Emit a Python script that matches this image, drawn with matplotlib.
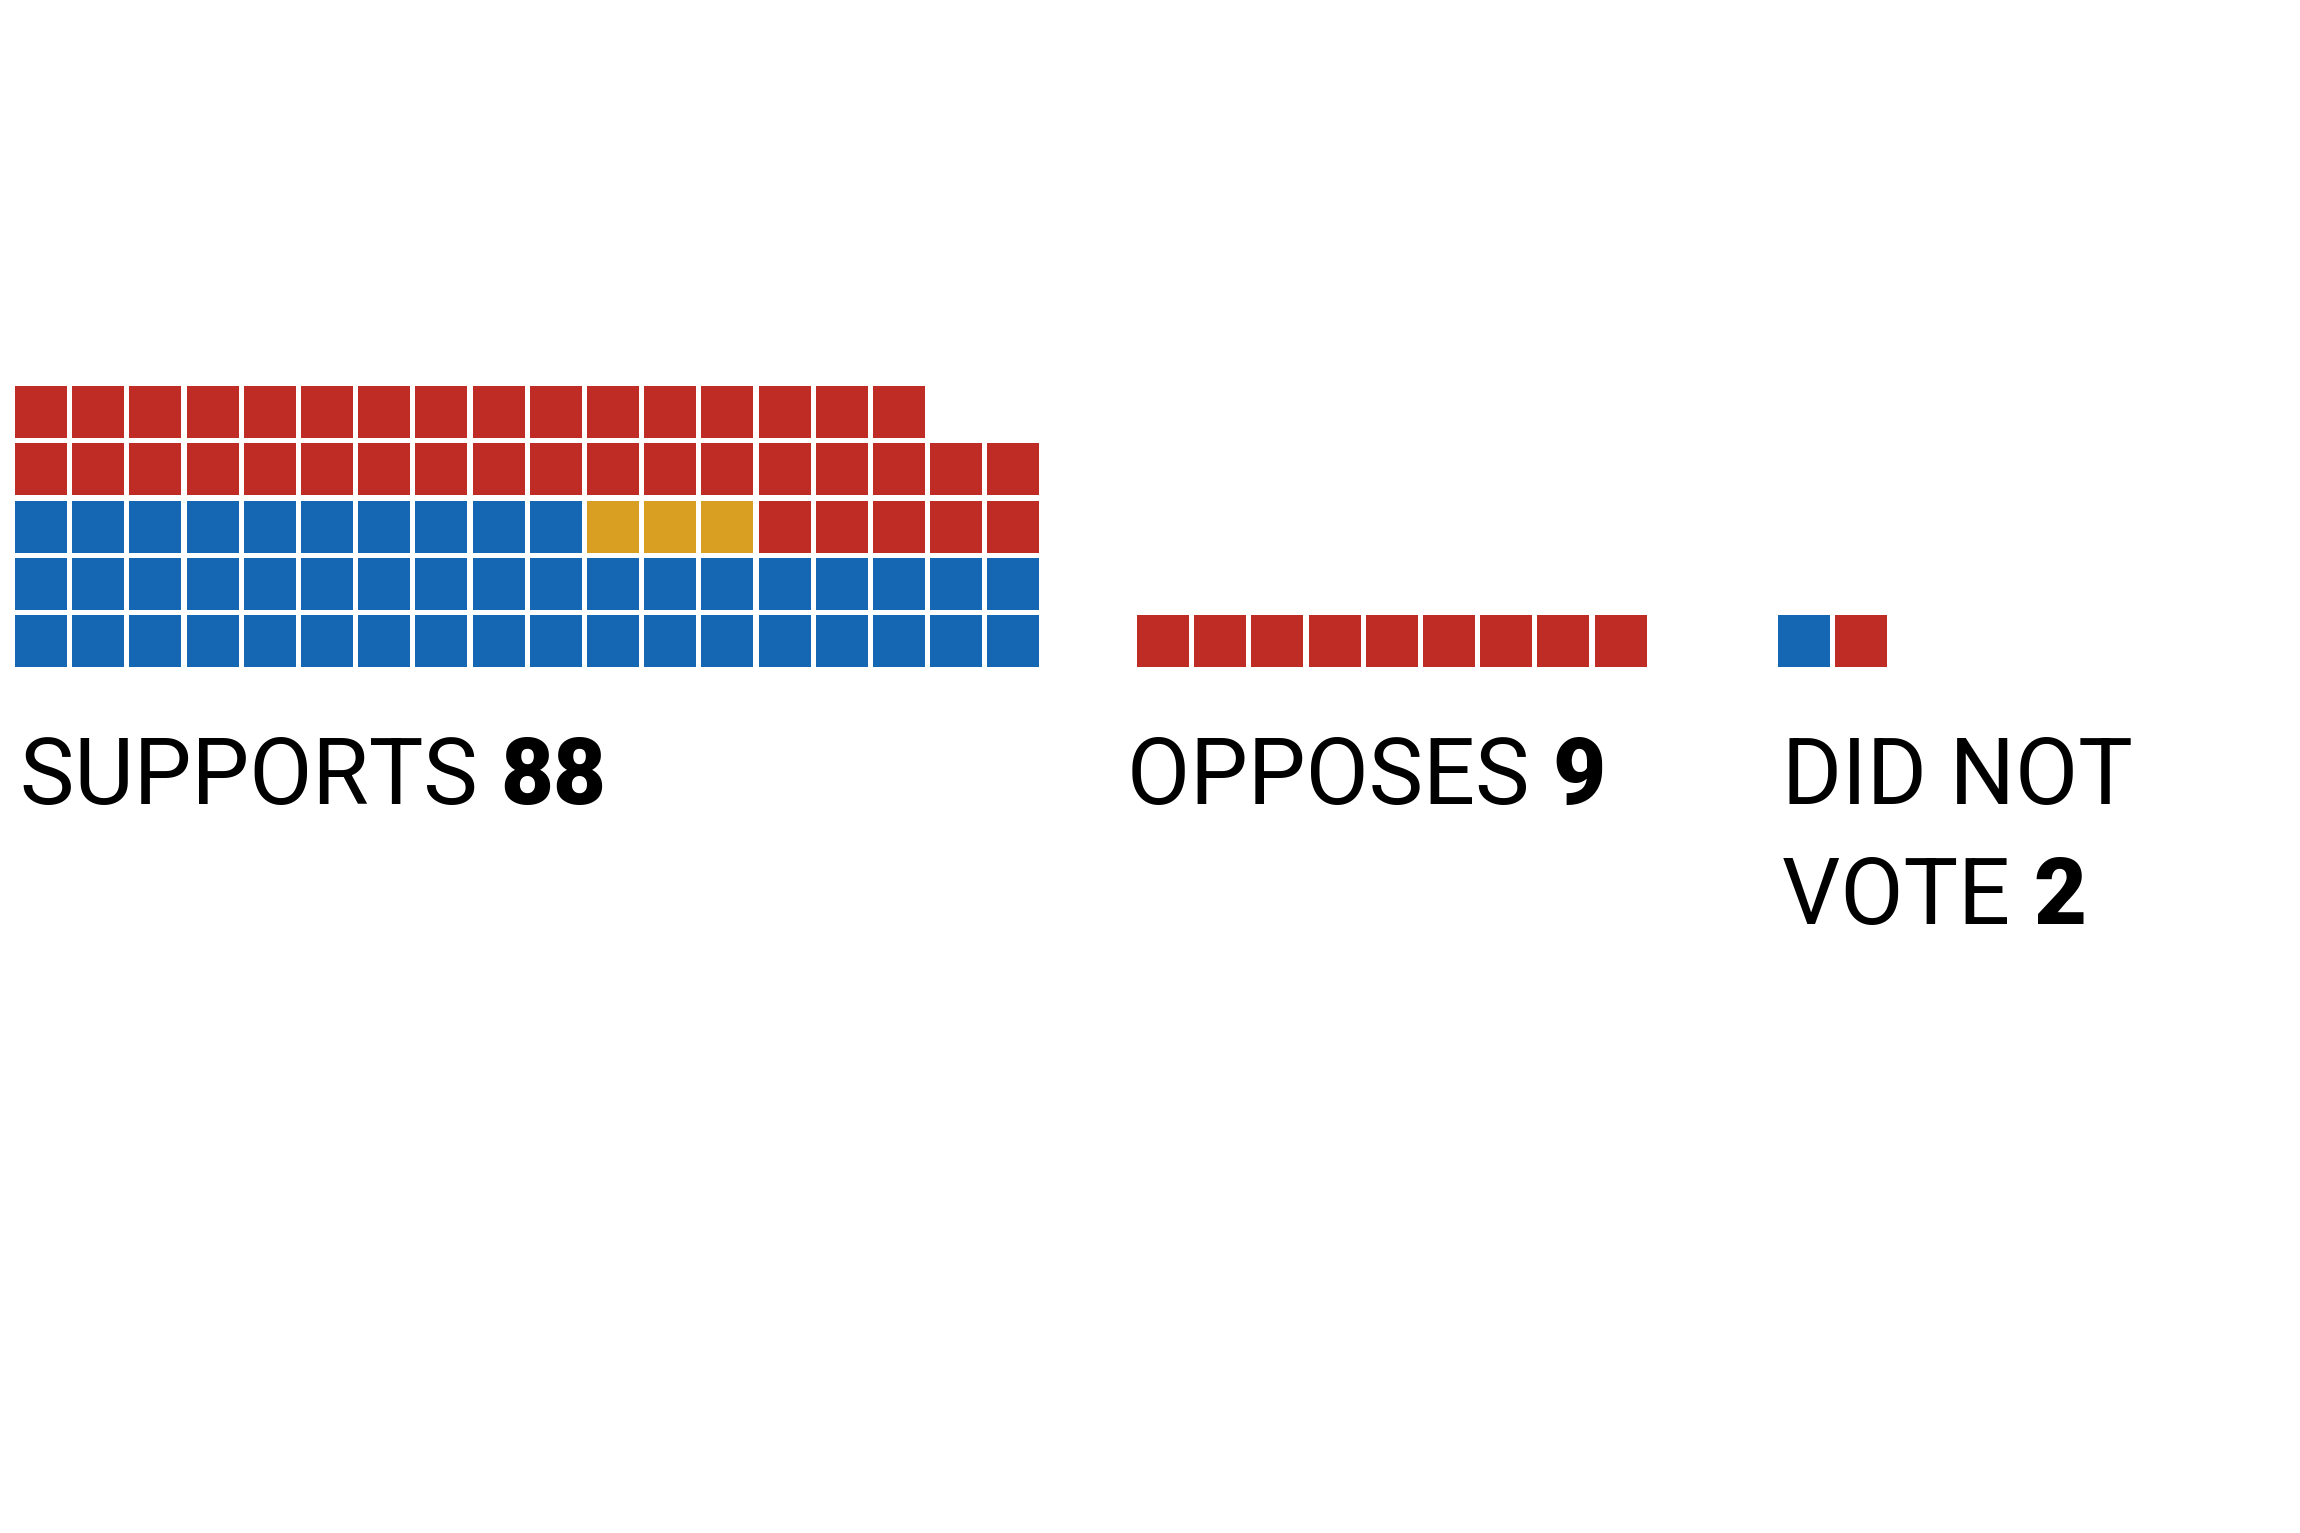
import matplotlib
matplotlib.use("Agg")
import matplotlib.pyplot as plt
from matplotlib.patches import Rectangle

# vote groups
categories = ["SUPPORTS", "OPPOSES", "DID NOT\nVOTE"]
totals = [88, 9, 2]
dem = [46, 0, 1]
ind = [3, 0, 0]
rep = [39, 9, 1]
row_width = [18, 9, 2]

colors = {"dem": "#1567b3", "ind": "#d99f22", "rep": "#bf2c26"}

# layout, in output pixels
W, H = 2300, 1533
group_x = [15, 1137, 1778]
label_dx = [5, -10, 4]
pitch = 57.2
cell = 52.0
grid_bottom = 667
label_base = 804
line_gap = 120
font = ["Roboto", "DejaVu Sans"]
fsize = 66

fig = plt.figure(figsize=(W / 100, H / 100), dpi=100)
ax = fig.add_axes([0, 0, 1, 1])
ax.set_xlim(0, W)
ax.set_ylim(H, 0)
ax.axis("off")

for g, name in enumerate(categories):
    seats = ["dem"] * dem[g] + ["ind"] * ind[g] + ["rep"] * rep[g]
    for i, party in enumerate(seats):
        row, col = divmod(i, row_width[g])
        x = group_x[g] + col * pitch
        y = grid_bottom - row * pitch - cell
        ax.add_patch(Rectangle((x, y), cell, cell, facecolor=colors[party],
                               edgecolor="none"))

    lines = name.split("\n")
    for k, line in enumerate(lines):
        y = label_base + k * line_gap
        t = ax.text(group_x[g] + label_dx[g], y, line + " ", fontsize=fsize,
                    family=font, va="baseline", ha="left", color="black")
        if k == len(lines) - 1:
            fig.canvas.draw()
            bb = t.get_window_extent()
            x_end = bb.x1  # pixel coords == data coords here
            ax.text(x_end, y, str(totals[g]), fontsize=fsize, family=font,
                    fontweight="black", va="baseline", ha="left", color="black")

fig.savefig("out.png", dpi=100, facecolor="white")
